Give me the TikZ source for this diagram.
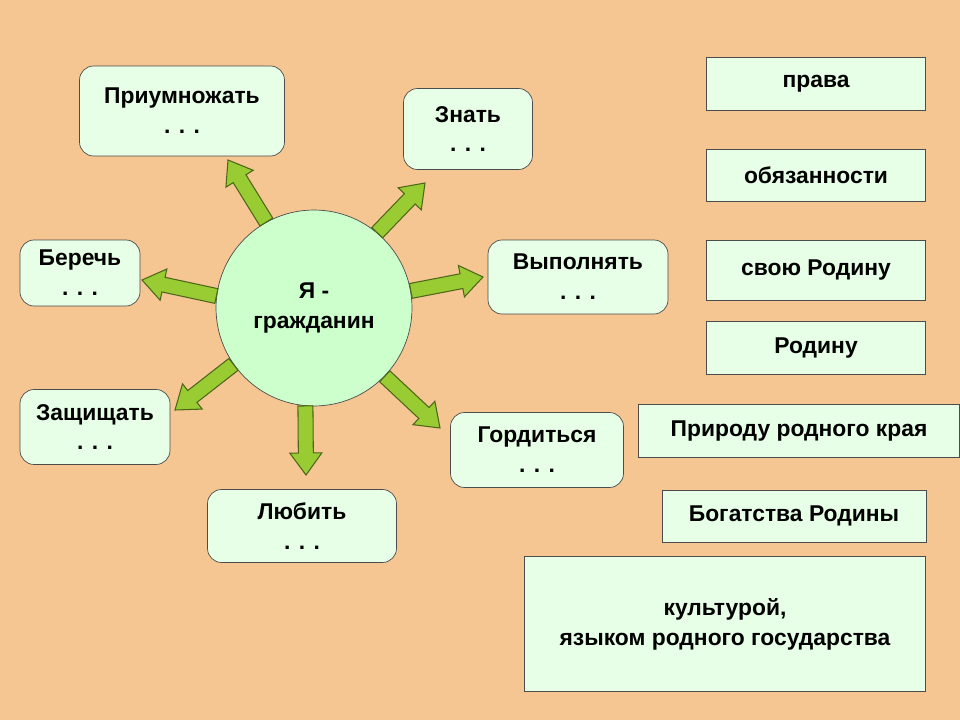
\documentclass[tikz,border=0pt]{standalone}
\usepackage{fontspec}
\setmainfont{Liberation Sans}
\usetikzlibrary{calc}

\definecolor{bgpeach}{HTML}{F5C592}
\definecolor{boxgreen}{HTML}{E6FFE6}
\definecolor{circgreen}{HTML}{CCFFCC}
\definecolor{arrowfill}{HTML}{99CC33}
\definecolor{arrowline}{HTML}{4D6619}

\tikzset{
  every node/.style={font=\fontsize{13}{17}\selectfont\bfseries, align=center},
  roundbox/.style={draw=black!70, fill=boxgreen, rounded corners=8pt, inner sep=0pt},
  squarebox/.style={draw=black!70, fill=boxgreen, inner sep=0pt},
}

% block arrow from #1 to #2
\newcommand{\blockarrow}[2]{
  \coordinate (ba-h) at ($(#2)!0.44cm!(#1)$);
  \filldraw[fill=arrowfill, draw=arrowline, line width=0.6pt]
    ($(#1)!0.15cm!90:(#2)$) -- ($(ba-h)!0.15cm!90:(#2)$) -- ($(ba-h)!0.32cm!90:(#2)$)
    -- (#2) -- ($(ba-h)!0.32cm!-90:(#2)$) -- ($(ba-h)!0.15cm!-90:(#2)$)
    -- ($(#1)!0.15cm!-90:(#2)$) -- cycle;
}

\begin{document}
\begin{tikzpicture}[x=0.02cm, y=-0.02cm]
  \fill[bgpeach] (0,0) rectangle (960,720);
  \useasboundingbox (0,0) rectangle (960,720);

  % center
  \node[circle, draw=black!70, fill=circgreen, minimum size=3.92cm] (me) at (314,308) {Я -\\гражданин};

  % round boxes
  \node[roundbox, minimum width=4.1cm, minimum height=1.8cm] (mult) at (182,111) {Приумножать\\. . .};
  \node[roundbox, minimum width=2.58cm, minimum height=1.62cm] (know) at (468,129) {Знать\\. . .};
  \node[roundbox, minimum width=2.4cm, minimum height=1.32cm] (keep) at (80,273) {Беречь\\. . .};
  \node[roundbox, minimum width=3.6cm, minimum height=1.48cm] (do) at (578,277) {Выполнять\\. . .};
  \node[roundbox, minimum width=3.0cm, minimum height=1.5cm] (guard) at (95,427) {Защищать\\. . .};
  \node[roundbox, minimum width=3.46cm, minimum height=1.5cm] (proud) at (537,450) {Гордиться\\. . .};
  \node[roundbox, minimum width=3.78cm, minimum height=1.46cm] (love) at (302,526) {Любить\\. . .};

  % right boxes
  \node[squarebox, minimum width=4.38cm, minimum height=1.06cm] (r1) at (816,84) {права};
  \node[squarebox, minimum width=4.38cm, minimum height=1.04cm] (r2) at (816,175) {обязанности};
  \node[squarebox, minimum width=4.38cm, minimum height=1.2cm] (r3) at (816,270) {свою Родину};
  \node[squarebox, minimum width=4.38cm, minimum height=1.06cm] (r4) at (816,348) {Родину};
  \node[squarebox, minimum width=6.42cm, minimum height=1.06cm] (r5) at (799,431) {Природу родного края};
  \node[squarebox, minimum width=5.28cm, minimum height=1.04cm] (r6) at (794,516) {Богатства Родины};
  \node[squarebox, minimum width=8.02cm, minimum height=2.7cm] (r7) at (725,624) {культурой,\\языком родного государства};

  % arrow tips
  \coordinate (t-mult) at (228,160);
  \coordinate (t-know) at (425,183);
  \coordinate (t-keep) at (142,280);
  \coordinate (t-do) at (483,277);
  \coordinate (t-guard) at (175,410);
  \coordinate (t-proud) at (440,428);
  \coordinate (t-love) at (306,475);

  \blockarrow{me.119}{t-mult}
  \blockarrow{me.50}{t-know}
  \blockarrow{me.173}{t-keep}
  \blockarrow{me.10}{t-do}
  \blockarrow{me.215}{t-guard}
  \blockarrow{me.316}{t-proud}
  \blockarrow{me.265}{t-love}
\end{tikzpicture}
\end{document}
